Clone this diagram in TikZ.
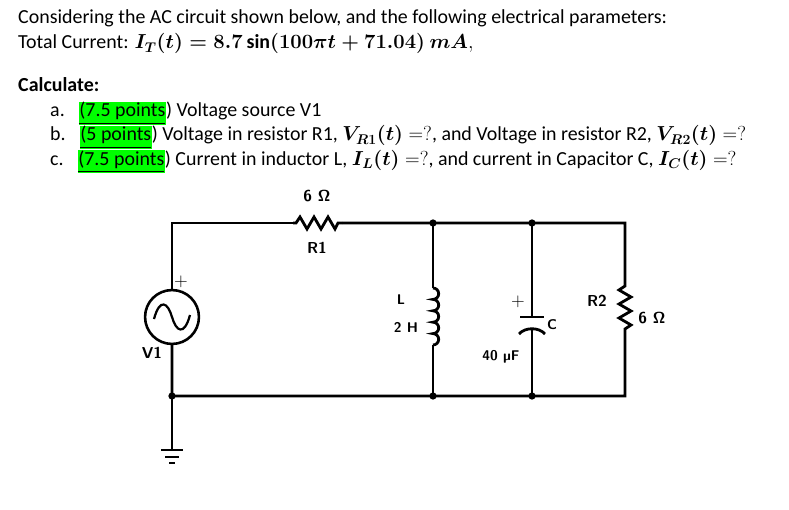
\documentclass[tikz,border=0pt]{standalone}
\usepackage{fontspec}
\setmainfont{Carlito}
\usepackage{amsmath}
\usetikzlibrary{calc}
\begin{document}
\begin{tikzpicture}[x=0.03cm,y=-0.03cm,
  wire/.style={line width=2.4pt},
  dot/.style={circle,fill,inner sep=2.2pt},
  txt/.style={anchor=base west,inner sep=0pt,font=\fontsize{17}{19}\selectfont},
  lab/.style={font=\sffamily\bfseries\fontsize{13.5}{14}\selectfont,inner sep=1pt},
  slab/.style={font=\sffamily\bfseries\fontsize{12}{13}\selectfont,inner sep=1pt}]
\useasboundingbox (0,0) rectangle (789,510);
% text
\node[txt] (t1) at (18,24) {Considering the AC circuit shown below, and the following electrical parameters:};
\node[txt] (t2) at (18,49) {Total Current: $\boldsymbol{I_T(t)=8.7\sin(100\pi t+71.04)\ mA},$};
\node[txt,font=\rmfamily\bfseries\fontsize{17}{19}\selectfont] (t3) at (18,92) {Calculate:};
\node[txt] (a) at (50,117) {a.\hspace{12pt}\setlength{\fboxsep}{0.5pt}\colorbox{green}{\underline{(7.5 points}}) Voltage source V1};
\node[txt] (b) at (50,141) {b.\hspace{12pt}\setlength{\fboxsep}{0.5pt}\colorbox{green}{\underline{(5 points}}) Voltage in resistor R1, $\boldsymbol{V_{R1}(t)}=?$, and Voltage in resistor R2, $\boldsymbol{V_{R2}(t)}=?$};
\node[txt] (c) at (50,165) {c.\hspace{12pt}\setlength{\fboxsep}{0.5pt}\colorbox{green}{\underline{(7.5 points}}) Current in inductor L, $\boldsymbol{I_L(t)}=?$, and current in Capacitor C, $\boldsymbol{I_C(t)}=?$};
% coordinates
\coordinate (tl) at (172,223);
\coordinate (bl) at (172,396);
\coordinate (r1a) at (293,223);
\coordinate (r1b) at (342,223);
\coordinate (nL) at (433,223);
\coordinate (nC) at (532,223);
\coordinate (tr) at (625,223);
\coordinate (bL) at (433,396);
\coordinate (bC) at (532,396);
\coordinate (br) at (625,396);
\node[dot] (dL) at (nL) {};
\node[dot] (dC) at (nC) {};
\node[dot] (dbL) at (bL) {};
\node[dot] (dbC) at (bC) {};
\node[dot] (dbl) at (bl) {};
% source
\node[draw,circle,line width=2.2pt,minimum size=46pt,inner sep=0pt] (V) at (172,317) {};
\draw[line width=1.9pt] ($(V.center)+(-18,2)$) .. controls ($(V.center)+(-12,-20)$) and ($(V.center)+(-4,-14)$) .. (V.center) .. controls ($(V.center)+(4,14)$) and ($(V.center)+(12,20)$) .. ($(V.center)+(18,-2)$);
\node[font=\sffamily\fontsize{16}{16}\selectfont,inner sep=0pt] (plus) at (181,282) {+};
\node[lab] (v1) at (152,353) {V1};
% wires
\draw[wire] (V.north) -- (tl) -- (r1a);
\draw[wire] (r1a) -- ++(3,0) -- ++(4,-6) -- ++(7,12) -- ++(7,-12) -- ++(7,12) -- ++(7,-12) -- ++(7,12) -- ++(3,-6) -- (r1b);
\draw[wire] (r1b) -- (tr) -- (625,283) -- ++(0,3) -- ++(-6,4) -- ++(12,7) -- ++(-12,7) -- ++(12,7) -- ++(-12,7) -- ++(12,7) -- ++(-6,4) -- (625,353) -- (br) -- (bl) -- (V.south);
\node[lab] (r1l) at (317,196) {6 Ω};
\node[lab] (r1n) at (317,248) {R1};
\node[lab] (r2l) at (597,301) {R2};
\node[lab] (r2v) at (652,318) {6 Ω};
% inductor
\draw[wire] (nL) -- (433,288);
\draw[wire] (433,288) \foreach \i in {0,1,2,3,4} { arc(-90:90:{5.7}) } ;
\draw[wire] (433,345) -- (bL);
\node[slab] (Ll) at (401,300) {L};
\node[slab] (Lv) at (406,327) {2 H};
% capacitor
\draw[wire] (nC) -- (532,317);
\draw[wire] (520,317) -- (544,317);
\draw[wire] (519,334) .. controls (525,327) and (539,327) .. (545,334);
\draw[wire] (532,329) -- (bC);
\node[font=\sffamily\fontsize{16}{16}\selectfont,inner sep=0pt] (cp) at (518,302) {+};
\node[slab] (cl) at (552,325) {C};
\node[slab] (cv) at (501,357) {40 µF};
% ground
\draw[wire] (bl) -- (172,450);
\draw[wire] (161,450) -- (183,450);
\draw[wire] (165,457) -- (179,457);
\draw[wire] (169,463) -- (175,463);
\end{tikzpicture}
\end{document}
